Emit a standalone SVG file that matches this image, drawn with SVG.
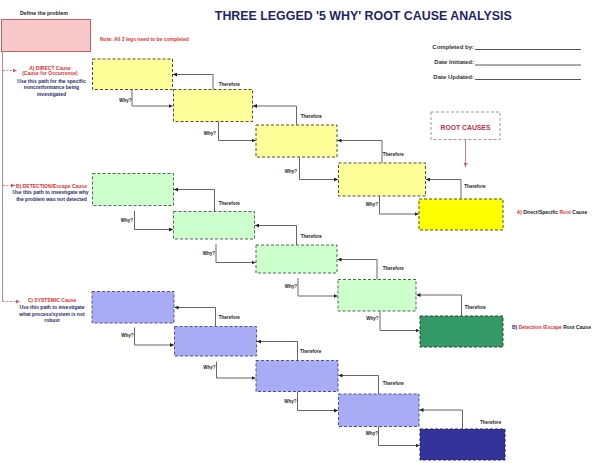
<svg xmlns="http://www.w3.org/2000/svg" width="600" height="463" viewBox="0 0 600 463">
<defs>
<style>
text{font-family:"Liberation Sans",Arial,sans-serif;font-weight:bold}
.box{stroke-width:1;stroke-dasharray:3 2}
.y{fill:#FFFF99;stroke:#505030}
.yr{fill:#FFFF00;stroke:#505030}
.g{fill:#CCFFCC;stroke:#556655}
.gr{fill:#339966;stroke:#334433}
.p{fill:#A8ACF4;stroke:#505090}
.pr{fill:#333399;stroke:#222266}
.c{fill:none;stroke:#666;stroke-width:1;marker-end:url(#ah)}
.why{font-size:4.5px;fill:#222;text-anchor:end}
.th{font-size:4.6px;fill:#222}
.red{fill:#E03030}
.navy{fill:#1F2A6B}
.hd{font-size:6px;fill:#333;text-anchor:end}
.lbl{font-size:5px;text-anchor:middle}
.ln{stroke:#555;stroke-width:1}
</style>
<marker id="ah" viewBox="0 0 6 6" refX="6" refY="3" markerWidth="4" markerHeight="4" orient="auto" markerUnits="userSpaceOnUse">
<path d="M0,0 L6,3 L0,6 z" fill="#222"/>
</marker>
<marker id="ahr" viewBox="0 0 6 6" refX="6" refY="3" markerWidth="4" markerHeight="4" orient="auto" markerUnits="userSpaceOnUse">
<path d="M0,0 L6,3 L0,6 z" fill="#C06070"/>
</marker>
</defs>
<rect width="600" height="463" fill="#FFFFFF"/>

<text x="363.3" y="20" font-size="12.4" fill="#1F1F6B" text-anchor="middle">THREE LEGGED '5 WHY' ROOT CAUSE ANALYSIS</text>

<g id="header-fields">
<text class="hd" x="474" y="48.7">Completed by:</text>
<line class="ln" x1="475" y1="49.5" x2="581" y2="49.5"/>
<text class="hd" x="474" y="64.3">Date Initiated:</text>
<line class="ln" x1="475" y1="65" x2="581" y2="65"/>
<text class="hd" x="474" y="79">Date Updated:</text>
<line class="ln" x1="475" y1="79.5" x2="581" y2="79.5"/>
</g>

<g id="problem">
<text x="20" y="14.5" font-size="5.3" fill="#222">Define the problem</text>
<rect x="1.5" y="19.5" width="89" height="32" fill="#F8C8CA" stroke="#C06060" stroke-width="1"/>
</g>
<text x="100" y="41" font-size="5" class="red">Note:  All 3 legs need to be completed</text>

<g id="legs-line" fill="none" stroke="#D08080" stroke-width="1">
<line x1="2.5" y1="51.5" x2="2.5" y2="301.5"/>
<line x1="3" y1="70.5" x2="17" y2="70.5" stroke-dasharray="2 1.5" marker-end="url(#ahr)"/>
<line x1="3" y1="185.5" x2="15" y2="185.5" stroke-dasharray="2 1.5" marker-end="url(#ahr)"/>
<line x1="3" y1="301.5" x2="20" y2="301.5" stroke-dasharray="2 1.5" marker-end="url(#ahr)"/>
</g>

<g id="leg-a-label">
<text class="lbl red" x="50" y="69.5">A)  DIRECT Cause</text>
<text class="lbl red" x="50" y="75.3">(Cause for Occurrence)</text>
<text class="lbl navy" x="51.5" y="82.8">Use this path for the specific</text>
<text class="lbl navy" x="51.5" y="89.2">nonconformance being</text>
<text class="lbl navy" x="51.5" y="95.8">investigated</text>
</g>
<g id="leg-b-label">
<text class="lbl red" x="51.5" y="187.5">B)  DETECTION/Escape Cause</text>
<text class="lbl navy" x="50.5" y="194">Use this path to investigate why</text>
<text class="lbl navy" x="51.5" y="200.8">the problem was not detected</text>
</g>
<g id="leg-c-label">
<text class="lbl red" x="52" y="302">C)  SYSTEMIC Cause</text>
<text class="lbl navy" x="52" y="308.8">Use this path to investigate</text>
<text class="lbl navy" x="52" y="315.5">what process/system is not</text>
<text class="lbl navy" x="52" y="322">robust</text>
</g>

<g id="y1"><rect class="box y" x="92.5" y="59" width="80" height="30.5"/></g>
<g id="y2"><rect class="box y" x="173.5" y="89.5" width="79" height="32"/></g>
<g id="y3"><rect class="box y" x="256" y="125" width="81" height="32"/></g>
<g id="y4"><rect class="box y" x="338.5" y="163" width="87" height="33"/></g>
<g id="y5"><rect class="box yr" x="419" y="199" width="84" height="31"/></g>

<g id="g1"><rect class="box g" x="92.5" y="173.5" width="81" height="32"/></g>
<g id="g2"><rect class="box g" x="173.5" y="211.5" width="81" height="27.5"/></g>
<g id="g3"><rect class="box g" x="256" y="245" width="81" height="28"/></g>
<g id="g4"><rect class="box g" x="338" y="279.5" width="78" height="31.5"/></g>
<g id="g5"><rect class="box gr" x="420" y="316" width="83" height="31"/></g>

<g id="p1"><rect class="box p" x="92" y="291.5" width="82" height="31.5"/></g>
<g id="p2"><rect class="box p" x="174.5" y="326.5" width="82" height="29.5"/></g>
<g id="p3"><rect class="box p" x="256" y="360.5" width="82" height="31"/></g>
<g id="p4"><rect class="box p" x="338.5" y="394" width="80.5" height="32.5"/></g>
<g id="p5"><rect class="box pr" x="420" y="429" width="85" height="31"/></g>

<g id="root-causes">
<rect x="431" y="112" width="69" height="27.5" fill="#FFFFFF" stroke="#999" stroke-width="1" stroke-dasharray="3 2"/>
<text x="465.5" y="129.5" font-size="6.8" fill="#C0304A" text-anchor="middle">ROOT CAUSES</text>
</g>
<g id="root-a-label"><text x="516.7" y="213.8" font-size="5"><tspan class="red">A)</tspan><tspan fill="#222">  Direct/Specific </tspan><tspan class="red">Root</tspan><tspan fill="#222"> Cause</tspan></text></g>
<g id="root-b-label"><text x="512" y="328.5" font-size="5"><tspan class="navy">B)</tspan><tspan class="red">  Detection /Escape</tspan><tspan fill="#222"> Root Cause</tspan></text></g>

<g id="connectors">
<path d="M465.5,139.5 V167" fill="none" stroke="#D08090" stroke-width="1" marker-end="url(#ahr)"/>
<path class="c" d="M132,89.5 V106 H172.5"/>
<path class="c" d="M213,89.5 V74.5 H173"/>
<path class="c" d="M218.5,121.5 V140.5 H255.5"/>
<path class="c" d="M296.5,125 V106 H253"/>
<path class="c" d="M299.5,157 V179.5 H338"/>
<path class="c" d="M382,163 V140.5 H337.5"/>
<path class="c" d="M379.5,196 V214 H418.5"/>
<path class="c" d="M461,199 V179.5 H426"/>

<path class="c" d="M134.5,211 V229.5 H173"/>
<path class="c" d="M214.5,211.5 V189.5 H174"/>
<path class="c" d="M216,244 V262.5 H255.5"/>
<path class="c" d="M296.5,245 V225.5 H255"/>
<path class="c" d="M298,278 V296 H337.5"/>
<path class="c" d="M377,279.5 V259.5 H337.5"/>
<path class="c" d="M380,311 V330.5 H419.5"/>
<path class="c" d="M461.5,316 V295 H416.5"/>

<path class="c" d="M134.5,327.5 V345 H174"/>
<path class="c" d="M215.5,326.5 V307.5 H174.5"/>
<path class="c" d="M216.5,361.5 V378 H255.5"/>
<path class="c" d="M297.5,360.5 V341.5 H257"/>
<path class="c" d="M297.5,391.5 V410.5 H338"/>
<path class="c" d="M378.5,394 V375.5 H338.5"/>
<path class="c" d="M378.5,426.5 V445.5 H419.5"/>
<path class="c" d="M462.5,429 V410 H419.5"/>

<text class="why" x="131.5" y="101.5">Why?</text>
<text class="why" x="216" y="134.5">Why?</text>
<text class="why" x="297" y="172.5">Why?</text>
<text class="why" x="378" y="205.5">Why?</text>
<text class="why" x="133" y="221.5">Why?</text>
<text class="why" x="215" y="254.8">Why?</text>
<text class="why" x="297" y="287.5">Why?</text>
<text class="why" x="378.5" y="319.5">Why?</text>
<text class="why" x="133.5" y="336.5">Why?</text>
<text class="why" x="215.5" y="368.8">Why?</text>
<text class="why" x="296.5" y="402.5">Why?</text>
<text class="why" x="378" y="434.8">Why?</text>

<text class="th" x="218.7" y="85.5">Therefore</text>
<text class="th" x="300.7" y="118.2">Therefore</text>
<text class="th" x="382.7" y="155.5">Therefore</text>
<text class="th" x="464.3" y="188.2">Therefore</text>
<text class="th" x="218.7" y="204.5">Therefore</text>
<text class="th" x="300.7" y="237.5">Therefore</text>
<text class="th" x="382.7" y="270.2">Therefore</text>
<text class="th" x="464.7" y="309.2">Therefore</text>
<text class="th" x="218.7" y="319.2">Therefore</text>
<text class="th" x="300" y="352.5">Therefore</text>
<text class="th" x="382.7" y="384.8">Therefore</text>
<text class="th" x="480" y="423.5">Therefore</text>
</g>
</svg>
